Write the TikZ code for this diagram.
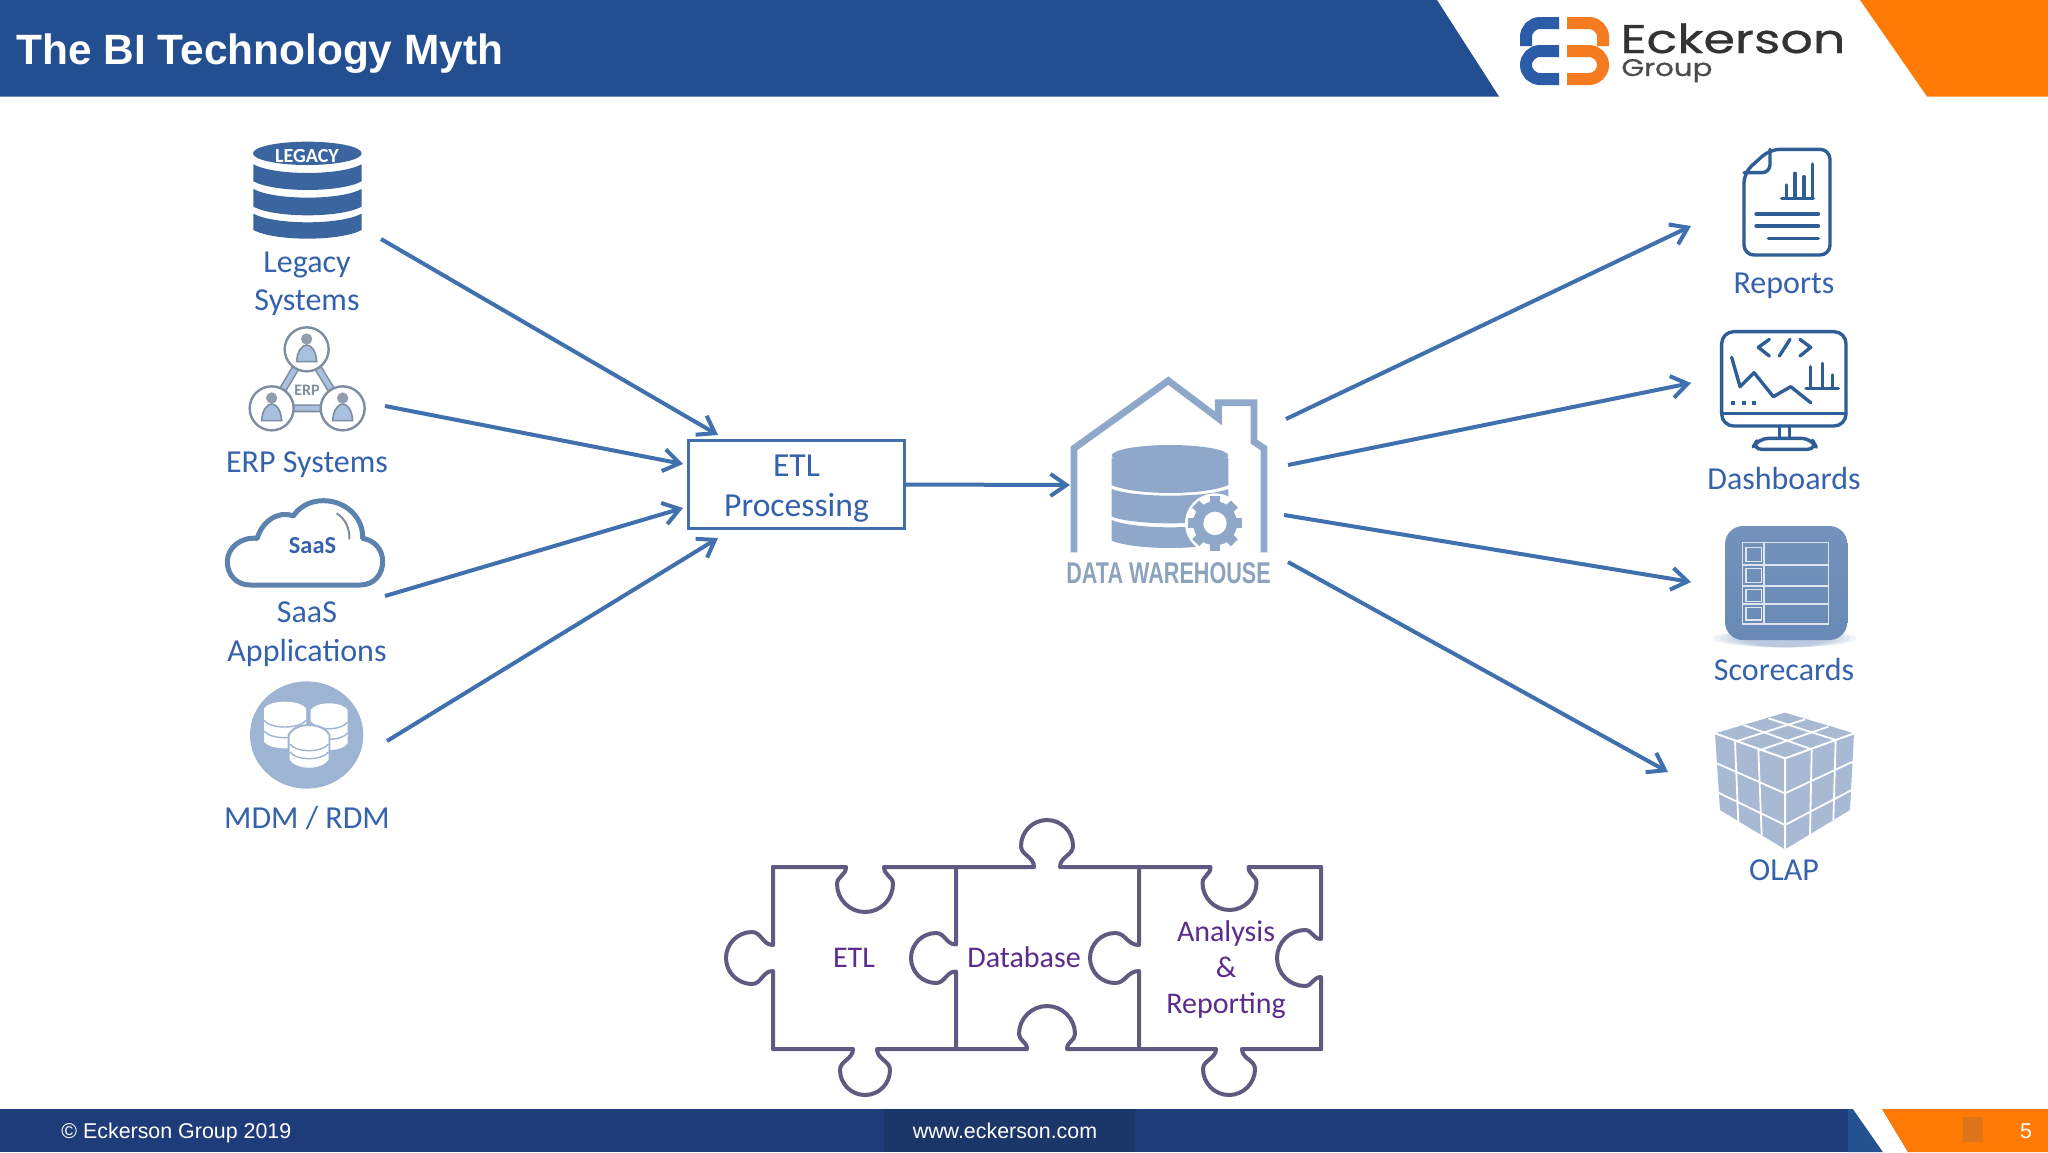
\documentclass[tikz,border=0pt]{standalone}
\usepackage{fontspec}
\usepackage{graphicx}
\usetikzlibrary{arrows.meta}
\setmainfont{Liberation Sans}
\newfontfamily\carlito{Carlito}
\newfontfamily\popp[FakeBold=0.6]{Poppins}
\definecolor{hdrblue}{HTML}{234E8F}
\definecolor{ftrblue}{HTML}{1F3C7A}
\definecolor{ftrmid}{HTML}{1B3668}
\definecolor{ftrlight}{HTML}{25528F}
\definecolor{orng}{HTML}{FF7A05}
\definecolor{lblblue}{HTML}{3562AC}
\definecolor{arrblue}{HTML}{4070AE}
\definecolor{icoblue}{HTML}{3A659F}
\definecolor{paleblue}{HTML}{8FA8C9}
\definecolor{linedark}{HTML}{2F5D95}
\definecolor{purptext}{HTML}{5B2C8E}
\definecolor{puzz}{HTML}{5F5A80}
\definecolor{logoblue}{HTML}{2A5CA8}
\definecolor{logoorng}{HTML}{F47B20}
\definecolor{erpgrey}{HTML}{7F8DA0}
\definecolor{erpfill}{HTML}{A9C0DE}
\definecolor{mdmblue}{HTML}{9DB5D3}
\definecolor{cubeblue}{HTML}{A8B9D3}
\definecolor{cloudline}{HTML}{5C82AE}
\newcommand\hbump[6]{-- ({#1-#3},#2) .. controls ({#1-#3},{#2+0.5*(#4-#2)}) and ({#1-#5},{#4-0.45*(#4-#2)}) .. ({#1-#5},#4) .. controls ({#1-#5},{#4+0.55*(#6-#4)}) and ({#1-0.55*#5},#6) .. (#1,#6) .. controls ({#1+0.55*#5},#6) and ({#1+#5},{#4+0.55*(#6-#4)}) .. ({#1+#5},#4) .. controls ({#1+#5},{#4-0.45*(#4-#2)}) and ({#1+#3},{#2+0.5*(#4-#2)}) .. ({#1+#3},#2) }
\newcommand\vbump[6]{-- (#2,{#1-#3}) .. controls ({#2+0.5*(#4-#2)},{#1-#3}) and ({#4-0.45*(#4-#2)},{#1-#5}) .. (#4,{#1-#5}) .. controls ({#4+0.55*(#6-#4)},{#1-#5}) and (#6,{#1-0.55*#5}) .. (#6,#1) .. controls (#6,{#1+0.55*#5}) and ({#4+0.55*(#6-#4)},{#1+#5}) .. (#4,{#1+#5}) .. controls ({#4-0.45*(#4-#2)},{#1+#5}) and ({#2+0.5*(#4-#2)},{#1+#3}) .. (#2,{#1+#3}) }
% band of a cylinder: x1 x2 ytop ybot depth
\newcommand\cylband[5]{(#1,#3) .. controls ({#1+0.2*(#2-#1)},{#3+1.33*#5}) and ({#2-0.2*(#2-#1)},{#3+1.33*#5}) .. (#2,#3) -- (#2,#4) .. controls ({#2-0.2*(#2-#1)},{#4+1.33*#5}) and ({#1+0.2*(#2-#1)},{#4+1.33*#5}) .. (#1,#4) -- cycle}
\newcommand\person[2]{%
  \begin{scope}[shift={(#1,#2)}]
    \fill[erpgrey!85!white] (0,-31) circle [radius=17];
    \draw[erpgrey,line width=0.8pt,fill=erpfill] (-30,37) .. controls (-28,2) and (-12,-13) .. (0,-13) .. controls (12,-13) and (28,2) .. (30,37) -- cycle;
  \end{scope}}
\newcommand\minicyl[5]{%
  \fill[white] (#1,#3) .. controls ({#1+0.15*(#2-#1)},{#3-1.33*#5}) and ({#2-0.15*(#2-#1)},{#3-1.33*#5}) .. (#2,#3) -- (#2,#4) .. controls ({#2-0.15*(#2-#1)},{#4+1.33*#5}) and ({#1+0.15*(#2-#1)},{#4+1.33*#5}) .. (#1,#4) -- cycle;
  \draw[mdmblue,line width=0.7pt] (#1,{#3+0.36*(#4-#3)}) .. controls ({#1+0.15*(#2-#1)},{#3+0.36*(#4-#3)+1.33*#5}) and ({#2-0.15*(#2-#1)},{#3+0.36*(#4-#3)+1.33*#5}) .. (#2,{#3+0.36*(#4-#3)});
  \draw[mdmblue,line width=0.7pt] (#1,{#3+0.68*(#4-#3)}) .. controls ({#1+0.15*(#2-#1)},{#3+0.68*(#4-#3)+1.33*#5}) and ({#2-0.15*(#2-#1)},{#3+0.68*(#4-#3)+1.33*#5}) .. (#2,{#3+0.68*(#4-#3)});
}
\tikzset{
  lbl/.style={font=\carlito\fontsize{16}{19.2}\selectfont,text=lblblue,align=center,inner sep=0pt},
  puzlbl/.style={font=\carlito\fontsize{15}{18}\selectfont,text=purptext,align=center,inner sep=0pt},
  conn/.style={draw=arrblue,line width=2pt,-{Straight Barb[length=8pt,width=11pt,line width=2pt]}},
  etlbox/.style={draw=arrblue,line width=1.4pt,minimum width=108pt,minimum height=44pt,inner sep=0pt,align=center,font=\carlito\fontsize{16.8}{20}\selectfont,text=lblblue},
  puzline/.style={draw=puzz,line width=2pt,line cap=round,line join=round},
  ftxt/.style={font=\fontsize{10.7}{12}\selectfont,text=white,inner sep=0pt},
  icol/.style={draw=linedark,line width=1.7pt,line cap=round,line join=round},
  zoomscale/.style={scale=0.33333}
}
\begin{document}
\begin{tikzpicture}[x=0.5pt,y=-0.5pt]
\useasboundingbox (0,0) rectangle (2048,1152);
\fill[white] (0,0) rectangle (2048,1152);
% header
\fill[hdrblue] (0,0) -- (1437,0) -- (1499,96.5) -- (0,96.5) -- cycle;
\fill[orng] (1860,0) -- (2048,0) -- (2048,96.5) -- (1927,96.5) -- cycle;
\node[anchor=west,inner sep=0pt,text=white,font=\bfseries\fontsize{21.2}{24}\selectfont] (title) at (16,54) {The BI Technology Myth};
% logo
\draw[logoblue,line width=6pt,rounded corners=7pt,line cap=butt] (1559,23) -- (1526,23) -- (1526,46);
\draw[logoblue,line width=6pt,rounded corners=7pt,line cap=butt] (1559,51) -- (1526,51) -- (1526,79) -- (1559,79);
\draw[logoorng,line width=6pt,rounded corners=7pt,line cap=butt] (1567,23) -- (1603,23) -- (1603,46);
\draw[logoorng,line width=6pt,rounded corners=7pt,line cap=butt] (1567,51) -- (1603,51) -- (1603,79) -- (1567,79);
\node[anchor=base west,inner sep=0pt,text=black!80,font=\popp\fontsize{20}{24}\selectfont] (logotext) at (1620,53) {\scalebox{1.27}[1]{Eckerson}};
\node[anchor=base west,inner sep=0pt,text=black!70,font=\popp\fontsize{12}{14}\selectfont] (logosub) at (1621,76) {\scalebox{1.22}[1]{Group}};
% footer
\fill[ftrblue] (0,1109) rectangle (2048,1152);
\fill[ftrmid] (884,1109) rectangle (1135,1152);
\fill[ftrlight] (1848,1109) -- (1853,1109) -- (1883,1152) -- (1848,1152) -- cycle;
\fill[white] (1853,1109) -- (1882,1109) -- (1908,1152) -- (1883,1152) -- cycle;
\fill[orng] (1882,1109) -- (2048,1109) -- (2048,1152) -- (1908,1152) -- cycle;
\fill[orng!85!hdrblue] (1963,1117) rectangle (1983,1142);
\node[ftxt,anchor=west] (copy) at (61,1133) {© Eckerson Group 2019};
\node[ftxt] (web) at (1005,1131) {www.eckerson.com};
\node[ftxt] (page) at (2026,1131) {5};

% Legacy icon
\begin{scope}[shift={(200,120)},zoomscale]
  \fill[icoblue] (322,100) ellipse [x radius=163,y radius=35];
  \fill[icoblue] \cylband{160}{485}{133}{184}{26};
  \fill[icoblue] \cylband{160}{485}{207}{260}{26};
  \fill[icoblue] \cylband{160}{485}{281}{330}{26};
\end{scope}
\node[inner sep=0pt,text=white,font=\carlito\bfseries\fontsize{10}{12}\selectfont] (legacyicon) at (307,156) {LEGACY};
\node[lbl] (legacy) at (307,284) {Legacy\\Systems};
% ERP icon
\begin{scope}[shift={(200,120)},zoomscale]
  \draw[erpgrey,line width=4pt] (320,688) -- (215,865) -- (428,865) -- cycle;
  \draw[erpfill,line width=2.4pt] (320,688) -- (215,865) -- (428,865) -- cycle;
  \foreach \cx/\cy in {320/688,215/865,428/865}{
    \draw[erpgrey,line width=1.2pt,fill=white] (\cx,\cy) circle [radius=66];
    \person{\cx}{\cy}
  }
\end{scope}
\node[inner sep=0pt,text=erpgrey,font=\carlito\bfseries\fontsize{8}{10}\selectfont] (erpicon) at (307,390) {ERP};
\node[lbl] (erp) at (307,465) {ERP Systems};
% SaaS icon
\begin{scope}[shift={(200,480)},zoomscale]
  \draw[draw=cloudline,line width=2.5pt,line join=round] (150,315) -- (480,315) .. controls (525,315) and (548,280) .. (548,245) .. controls (548,205) and (520,180) .. (488,175) .. controls (490,110) and (435,62) .. (370,62) .. controls (325,62) and (295,85) .. (280,108) .. controls (235,90) and (185,125) .. (172,175) .. controls (120,170) and (82,205) .. (82,245) .. controls (82,285) and (110,315) .. (150,315) -- cycle;
  \draw[erpgrey,line width=1pt] (410,100) .. controls (435,115) and (450,145) .. (448,178);
\end{scope}
\node[inner sep=0pt,text=lblblue,font=\carlito\bfseries\fontsize{12.2}{14}\selectfont] (saasicon) at (312.5,546) {SaaS};
\node[lbl] (saas) at (307,634) {SaaS\\Applications};
% MDM icon
\begin{scope}[shift={(200,480)},zoomscale]
  \fill[mdmblue] (320,765) ellipse [x radius=170,y radius=161];
  \minicyl{192}{318}{685}{785}{20}
  \minicyl{332}{443}{690}{790}{20}
  \draw[mdmblue,line width=1pt,fill=white] (266,765) .. controls (285,725) and (370,725) .. (388,765) -- (388,840) .. controls (370,875) and (285,875) .. (266,840) -- cycle;
  \minicyl{270}{385}{765}{840}{20}
\end{scope}
\node[lbl] (mdm) at (307,818) {MDM / RDM};

% ETL box
\node[etlbox] (etl) at (796.5,484.5) {\rule{0pt}{15pt}ETL\\Processing};
% data warehouse
\begin{scope}[shift={(1040,360)},zoomscale]
  \draw[paleblue,line width=3.4pt,line join=miter] (102,577) -- (102,265) -- (385,62) -- (535,175) -- (535,128) -- (642,128) -- (642,245) -- (672,265) -- (672,577);
  \fill[paleblue] (390,287) ellipse [x radius=175,y radius=32];
  \fill[paleblue] \cylband{215}{565}{293}{375}{24};
  \fill[paleblue] \cylband{215}{565}{387}{470}{20};
  \fill[paleblue] \cylband{215}{565}{480}{542}{22};
  \fill[white] (525,490) circle [radius=90];
  \foreach \a in {0,45,...,315}{
    \fill[paleblue,rotate around={\a:(525,490)}] (510,408) rectangle (540,450);
  }
  \fill[paleblue] (525,490) circle [radius=66];
  \fill[white] (525,490) circle [radius=35];
\end{scope}
\node[inner sep=0pt,text=paleblue!85!gray,font=\bfseries\fontsize{15}{18}\selectfont] (dw) at (1168.5,573) {\scalebox{0.72}[1]{DATA WAREHOUSE}};

% Reports
\begin{scope}[shift={(1690,130)},zoomscale]
  \draw[icol,rounded corners=5pt] (240,58) -- (420,58) -- (420,375) -- (162,375) -- (162,128) -- cycle;
  \draw[icol,rounded corners=4pt] (240,58) -- (240,128) -- (162,128);
  \draw[icol] (275,205) -- (370,205) (290,165) -- (290,205) (315,130) -- (315,205) (342,140) -- (342,205) (368,102) -- (368,205);
  \draw[icol] (198,252) -- (385,252) (198,288) -- (385,288) (235,325) -- (385,325);
\end{scope}
\node[lbl] (reports) at (1784,286) {Reports};
% Dashboards
\begin{scope}[shift={(1690,130)},zoomscale]
  \draw[icol,rounded corners=6pt] (95,605) rectangle (468,888);
  \draw[icol] (95,850) -- (468,850);
  \draw[icol] (268,888) -- (268,925) (298,888) -- (298,925);
  \draw[icol,rounded corners=5pt] (205,925) -- (365,925) -- (382,958) -- (185,958) -- cycle;
  \draw[icol] (238,628) -- (205,652) -- (238,678) (268,678) -- (300,628) (330,628) -- (362,652) -- (330,678);
  \draw[icol] (125,682) -- (150,770) -- (192,728) -- (250,800) -- (302,770) -- (362,818);
  \draw[icol] (348,775) -- (445,775) (362,710) -- (362,775) (397,700) -- (397,775) (428,735) -- (428,775);
  \foreach \q in {130,162,193}{\fill[linedark] (\q-6,812) rectangle (\q+6,824);}
\end{scope}
\node[lbl] (dash) at (1784,478) {Dashboards};
% Scorecards
\begin{scope}[shift={(1690,510)},zoomscale]
  \foreach \rr in {215,195,175,155,135,115}{
    \fill[paleblue,opacity=0.14] (285,385) ellipse [x radius=\rr,y radius=27];
  }
  \shade[top color=paleblue!68!icoblue,bottom color=paleblue!55!icoblue,rounded corners=9pt] (105,48) rectangle (472,390);
  \draw[white!70!paleblue,line width=0.6pt] (158,97) rectangle (415,342);
  \draw[white!70!paleblue,line width=0.6pt] (222,97) -- (222,342) (158,165) -- (415,165) (158,228) -- (415,228) (158,282) -- (415,282);
  \foreach \yy/\yb in {112/155,175/218,238/275,292/330}{
    \draw[white!70!paleblue,line width=0.6pt] (168,\yy) rectangle (215,\yb);
  }
\end{scope}
\node[lbl] (score) at (1784,669) {Scorecards};
% OLAP cube
\begin{scope}[shift={(1690,510)},zoomscale]
  \fill[cubeblue] (285,608) -- (492,670) -- (480,900) -- (285,1018) -- (90,900) -- (75,670) -- cycle;
  \draw[white,line width=1pt] (75,670) -- (285,745) -- (492,670) (285,745) -- (285,1018);
  \draw[white,line width=0.9pt] (135,695) -- (145,940) (205,722) -- (215,975) (80,760) -- (285,850) (85,848) -- (285,945)
    (365,718) -- (360,975) (437,690) -- (430,930) (285,850) -- (488,755) (285,945) -- (485,840)
    (160,645) -- (365,718) (235,625) -- (437,690) (135,695) -- (345,628) (205,722) -- (415,650);
\end{scope}
\node[lbl] (olap) at (1784,870) {OLAP};

% connector ends
\coordinate (legacyOut) at (381,239);
\coordinate (erpOut) at (385,406);
\coordinate (saasOut) at (385,596);
\coordinate (mdmOut) at (387,741);
\coordinate (etlA) at (718,435);
\coordinate (etlB) at (683,464);
\coordinate (etlC) at (683,508);
\coordinate (etlD) at (718,538);
\coordinate (dwIn) at (1070,485);
\coordinate (dwA) at (1286,419);
\coordinate (dwB) at (1288,465);
\coordinate (dwC) at (1284,515);
\coordinate (dwD) at (1288,562);
\coordinate (repIn) at (1691,226);
\coordinate (dashIn) at (1691,383);
\coordinate (scoreIn) at (1691,582);
\coordinate (olapIn) at (1668,772);
\draw[conn] (legacyOut) -- (etlA);
\draw[conn] (erpOut) -- (etlB);
\draw[conn] (saasOut) -- (etlC);
\draw[conn] (mdmOut) -- (etlD);
\draw[conn] (etl.east) -- (dwIn);
\draw[conn] (dwA) -- (repIn);
\draw[conn] (dwB) -- (dashIn);
\draw[conn] (dwC) -- (scoreIn);
\draw[conn] (dwD) -- (olapIn);

% puzzle
\draw[puzline] (773,867) \hbump{865}{867}{19}{884}{28}{912} \hbump{1047}{867}{13}{846}{26}{820} \hbump{1229.5}{867}{19}{883}{27}{910} -- (1321,867);
\draw[puzline] (773,1049) \hbump{865}{1049}{12}{1070}{25}{1095} \hbump{1047}{1049}{20}{1034}{28}{1006} \hbump{1229}{1049}{13}{1069}{26}{1095} -- (1321,1049);
\draw[puzline] (773,867) \vbump{958}{773}{13}{752}{26}{726} -- (773,1049);
\draw[puzline] (956,867) \vbump{958}{956}{13.5}{936}{25}{911} -- (956,1049);
\draw[puzline] (1139,867) \vbump{958}{1139}{13}{1115}{25}{1090} -- (1139,1049);
\draw[puzline] (1321,867) \vbump{958}{1321}{19}{1305}{28}{1277} -- (1321,1049);
\node[puzlbl] (petl) at (854,958) {ETL};
\node[puzlbl] (pdb) at (1024,957) {Database};
\node[puzlbl] (pana) at (1226,970) {Analysis\\\&\\Reporting};
\end{tikzpicture}
\end{document}
